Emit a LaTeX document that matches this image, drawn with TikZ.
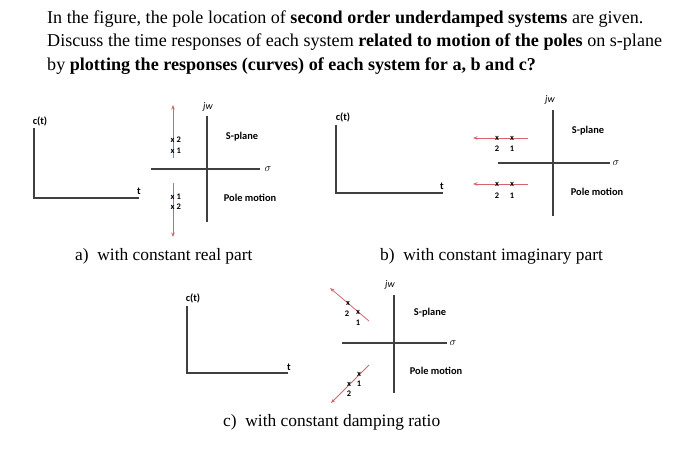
\documentclass[tikz,border=0pt]{standalone}
\usepackage{fontspec}
\setmainfont{Liberation Serif}
\newfontfamily\lblfont{Carlito}
\usetikzlibrary{arrows.meta}
\definecolor{polered}{RGB}{214,100,112}
\begin{document}
\begin{tikzpicture}[x=1pt, y=-1pt,
    axis/.style={draw=black!75, line width=1.3pt},
    motion/.style={-{Stealth[length=4.5pt,width=3.5pt]}, draw=polered, line width=0.8pt},
    lbl/.style={font=\lblfont\bfseries\fontsize{10.4}{11}\selectfont, inner sep=0pt},
    pole/.style={font=\lblfont\bfseries\fontsize{8.5}{9}\selectfont, inner sep=0pt},
    caption/.style={font=\fontsize{17.4}{20}\selectfont, anchor=base west, inner sep=0pt},
    head/.style={font=\fontsize{18.1}{21}\selectfont, anchor=base west, inner sep=0pt}
]
    \useasboundingbox (0,0) rectangle (700,452);

    % Question
    \node[head] (q1) at (47,24) {In the figure, the pole location of \textbf{second order underdamped systems} are given.};
    \node[head] (q2) at (47,47) {Discuss the time responses of each system \textbf{related to motion of the poles} on s-plane};
    \node[head] (q3) at (47,70) {by \textbf{plotting the responses (curves) of each system for a, b and c?}};

    % a) response axes
    \coordinate (aO) at (34,198);
    \coordinate (aY) at (34,128);
    \coordinate (aX) at (139,198);
    \node[lbl] (act) at (40,121) {c(t)};
    \node[lbl] (at) at (139,191) {t};
    \draw[axis] (aY) -- (aO) -- (aX);

    % a) s-plane
    \coordinate (aN) at (207,116);
    \coordinate (aS) at (207,222);
    \coordinate (aW) at (151,169);
    \coordinate (aE) at (260,169);
    \draw[axis] (aN) -- (aS);
    \draw[axis] (aW) -- (aE);
    \node[lbl, font=\lblfont\itshape\fontsize{10}{11}\selectfont] (ajw) at (208,107) {jw};
    \node[lbl, font=\fontsize{11}{12}\selectfont] (asig) at (268,169) {$\sigma$};
    \node[lbl] (aspl) at (242,137) {S-plane};
    \node[lbl] (apm) at (250,198) {Pole motion};

    % a) poles, constant real part
    \coordinate (au0) at (173,158);
    \coordinate (au1) at (173,105);
    \coordinate (al0) at (173,183);
    \coordinate (al1) at (173,237);
    \draw[motion] (au0) -- (au1);
    \draw[motion] (al0) -- (al1);
    \node[pole, anchor=west] (ap2) at (170.5,140) {x 2};
    \node[pole, anchor=west] (ap1) at (170.5,151) {x 1};
    \node[pole, anchor=west] (aq1) at (170.5,197) {x 1};
    \node[pole, anchor=west] (aq2) at (170.5,207) {x 2};

    \node[caption] (capa) at (75,260) {a)\ \ with constant real part};

    % b) response axes
    \coordinate (bO) at (336,193);
    \coordinate (bY) at (336,125);
    \coordinate (bX) at (443,193);
    \node[lbl] (bct) at (343,117) {c(t)};
    \node[lbl] (bt) at (442,186) {t};
    \draw[axis] (bY) -- (bO) -- (bX);

    % b) s-plane
    \coordinate (bN) at (553,110);
    \coordinate (bS) at (553,216);
    \coordinate (bW) at (498,163);
    \coordinate (bE) at (610,163);
    \draw[axis] (bN) -- (bS);
    \draw[axis] (bW) -- (bE);
    \node[lbl, font=\lblfont\itshape\fontsize{10}{11}\selectfont] (bjw) at (550,100) {jw};
    \node[lbl, font=\fontsize{11}{12}\selectfont] (bsig) at (616,163) {$\sigma$};
    \node[lbl] (bspl) at (588,131) {S-plane};
    \node[lbl] (bpm) at (597,192) {Pole motion};

    % b) poles, constant imaginary part
    \coordinate (bu0) at (528,138);
    \coordinate (bu1) at (473,138);
    \coordinate (bl0) at (528,184);
    \coordinate (bl1) at (473,184);
    \draw[motion] (bu0) -- (bu1);
    \draw[motion] (bl0) -- (bl1);
    \node[pole] (bp2) at (497,138) {x};
    \node[pole] (bp1) at (512,138) {x};
    \node[pole] (bn2) at (497,149) {2};
    \node[pole] (bn1) at (512,149) {1};
    \node[pole] (bq2) at (497,184) {x};
    \node[pole] (bq1) at (512,184) {x};
    \node[pole] (bm2) at (497,196) {2};
    \node[pole] (bm1) at (512,196) {1};

    \node[caption] (capb) at (380,260) {b)\ \ with constant imaginary part};

    % c) response axes
    \coordinate (cO) at (187,373);
    \coordinate (cY) at (187,306);
    \coordinate (cX) at (288,373);
    \node[lbl] (cct) at (193,298) {c(t)};
    \node[lbl] (ct) at (289,367) {t};
    \draw[axis] (cY) -- (cO) -- (cX);

    % c) s-plane
    \coordinate (cN) at (394,295);
    \coordinate (cS) at (394,393);
    \coordinate (cW) at (342,343);
    \coordinate (cE) at (447,343);
    \draw[axis] (cN) -- (cS);
    \draw[axis] (cW) -- (cE);
    \node[lbl, font=\lblfont\itshape\fontsize{10}{11}\selectfont] (cjw) at (390,285) {jw};
    \node[lbl, font=\fontsize{11}{12}\selectfont] (csig) at (453,343) {$\sigma$};
    \node[lbl] (cspl) at (430,313) {S-plane};
    \node[lbl] (cpm) at (436,371) {Pole motion};

    % c) poles, constant damping ratio
    \coordinate (cu0) at (369,321);
    \coordinate (cu1) at (330,288);
    \coordinate (cl0) at (369,365);
    \coordinate (cl1) at (331,403);
    \draw[motion] (cu0) -- (cu1);
    \draw[motion] (cl0) -- (cl1);
    \node[pole] (cp2) at (348,303) {x};
    \node[pole] (cp1) at (358,312) {x};
    \node[pole] (cn2) at (347,314) {2};
    \node[pole] (cn1) at (358,323) {1};
    \node[pole] (cq1) at (359,374) {x};
    \node[pole] (cq2) at (349,384) {x};
    \node[pole] (cm1) at (359,384) {1};
    \node[pole] (cm2) at (349,394) {2};

    \node[caption] (capc) at (223,426) {c)\ \ with constant damping ratio};
\end{tikzpicture}
\end{document}
